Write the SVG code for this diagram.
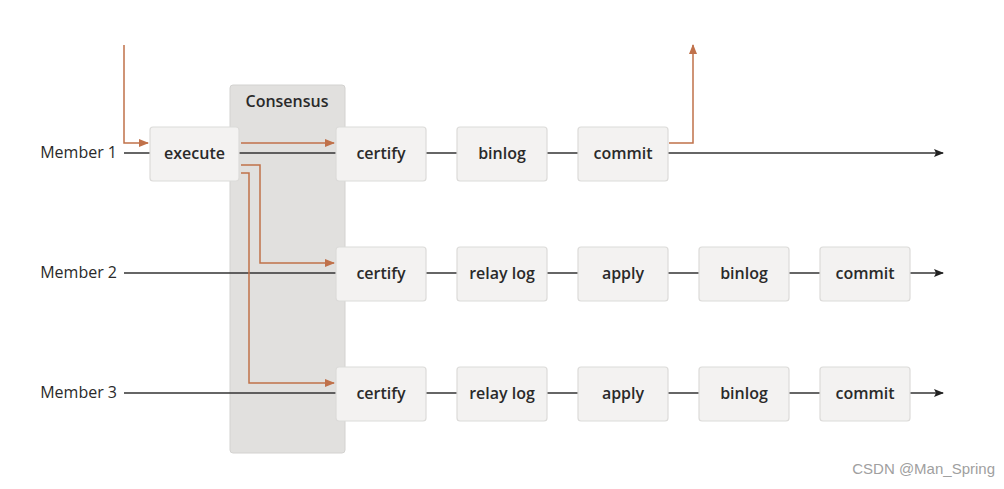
<svg xmlns="http://www.w3.org/2000/svg" width="1004" height="489" viewBox="0 0 1004 489">
<style>
.box{fill:#f3f2f1;stroke:#dcdbd9;stroke-width:1.2}
.t{font-family:"Open Sans","Liberation Sans",sans-serif;font-size:16px;font-weight:600;fill:#2a2a2a;text-anchor:middle}
.lbl{font-family:"Open Sans","Liberation Sans",sans-serif;font-size:16px;font-weight:500;fill:#2a2a2a;text-anchor:end}
.k{stroke:#333;stroke-width:1.3;fill:none}
.o{stroke:#c0714a;stroke-width:1.5;fill:none}
</style>
<defs>
<marker id="ak" markerWidth="10" markerHeight="8" refX="9" refY="4" orient="auto" markerUnits="userSpaceOnUse"><path d="M0,0 L10,4 L0,8 L2,4 Z" fill="#222"/></marker>
<marker id="ao" markerWidth="10" markerHeight="8" refX="9" refY="4" orient="auto" markerUnits="userSpaceOnUse"><path d="M0,0 L10,4 L0,8 Z" fill="#c0714a"/></marker>
</defs>
<rect width="1004" height="489" fill="#fff"/>
<g id="consensus"><rect x="230" y="85" width="115" height="368" rx="3" fill="#e1e0de" stroke="#d3d2d0"/><text x="287" y="107" class="t" font-size="15">Consensus</text></g>
<g id="connectors">
<line class="k" x1="124" y1="153" x2="943" y2="153" marker-end="url(#ak)"/>
<line class="k" x1="124" y1="273" x2="943" y2="273" marker-end="url(#ak)"/>
<line class="k" x1="124" y1="393" x2="943" y2="393" marker-end="url(#ak)"/>
<path class="o" d="M124,45 V143 H148" marker-end="url(#ao)"/>
<path class="o" d="M241,143 H334" marker-end="url(#ao)"/>
<path class="o" d="M241,165 H260 V263 H334" marker-end="url(#ao)"/>
<path class="o" d="M241,173 H249 V383 H334" marker-end="url(#ao)"/>
<path class="o" d="M669,143 H693 V45" marker-end="url(#ao)"/>
</g>
<g id="labels"><text class="lbl" x="117" y="158">Member 1</text><text class="lbl" x="117" y="278">Member 2</text><text class="lbl" x="117" y="398">Member 3</text></g>
<g id="n-execute"><rect class="box" x="150" y="127" width="89" height="54" rx="3"/><text class="t" x="194.5" y="159">execute</text></g>
<g id="n-r1-certify"><rect class="box" x="336" y="127" width="90" height="54" rx="3"/><text class="t" x="381" y="159">certify</text></g>
<g id="n-r1-binlog"><rect class="box" x="457" y="127" width="90" height="54" rx="3"/><text class="t" x="502" y="159">binlog</text></g>
<g id="n-r1-commit"><rect class="box" x="578" y="127" width="90" height="54" rx="3"/><text class="t" x="623" y="159">commit</text></g>
<g id="n-r2-certify"><rect class="box" x="336" y="247" width="90" height="54" rx="3"/><text class="t" x="381" y="279">certify</text></g>
<g id="n-r2-relay"><rect class="box" x="457" y="247" width="90" height="54" rx="3"/><text class="t" x="502" y="279">relay log</text></g>
<g id="n-r2-apply"><rect class="box" x="578" y="247" width="90" height="54" rx="3"/><text class="t" x="623" y="279">apply</text></g>
<g id="n-r2-binlog"><rect class="box" x="699" y="247" width="90" height="54" rx="3"/><text class="t" x="744" y="279">binlog</text></g>
<g id="n-r2-commit"><rect class="box" x="820" y="247" width="90" height="54" rx="3"/><text class="t" x="865" y="279">commit</text></g>
<g id="n-r3-certify"><rect class="box" x="336" y="367" width="90" height="54" rx="3"/><text class="t" x="381" y="399">certify</text></g>
<g id="n-r3-relay"><rect class="box" x="457" y="367" width="90" height="54" rx="3"/><text class="t" x="502" y="399">relay log</text></g>
<g id="n-r3-apply"><rect class="box" x="578" y="367" width="90" height="54" rx="3"/><text class="t" x="623" y="399">apply</text></g>
<g id="n-r3-binlog"><rect class="box" x="699" y="367" width="90" height="54" rx="3"/><text class="t" x="744" y="399">binlog</text></g>
<g id="n-r3-commit"><rect class="box" x="820" y="367" width="90" height="54" rx="3"/><text class="t" x="865" y="399">commit</text></g>
<text x="995" y="474" font-family="'Liberation Sans',sans-serif" font-size="15" fill="#a0a0a0" text-anchor="end">CSDN @Man_Spring</text>
</svg>
